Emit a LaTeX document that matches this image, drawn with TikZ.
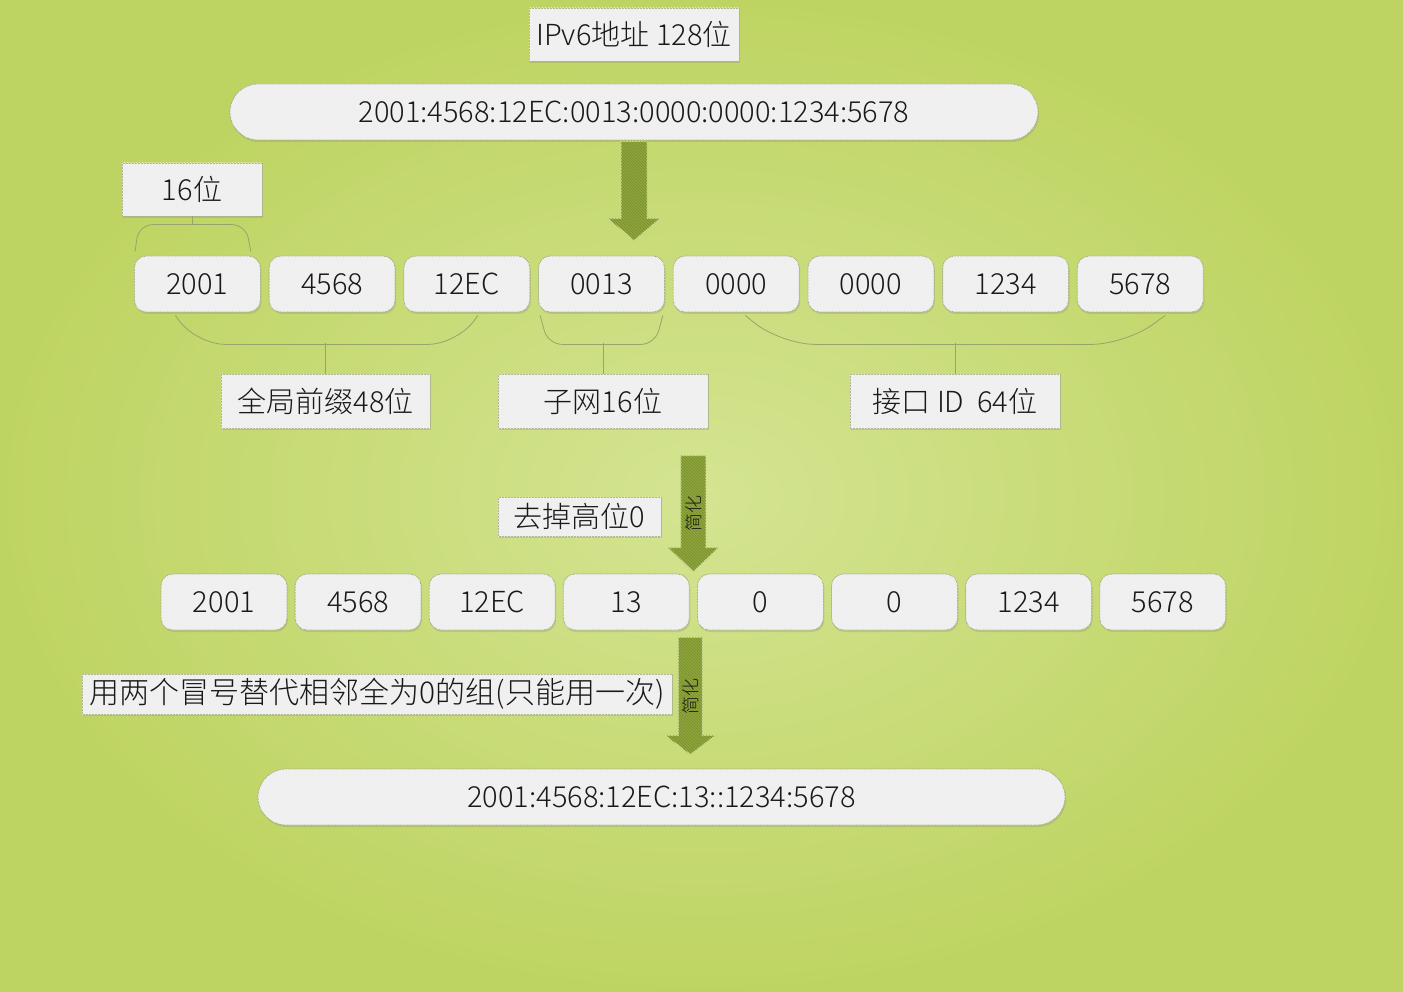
\documentclass[tikz,border=0pt]{standalone}
\usepackage{fontspec}
\setmainfont{Noto Sans CJK SC}[UprightFont=* Light]
\usetikzlibrary{calc,patterns,shadows}
\definecolor{bgouter}{RGB}{190,212,98}
\definecolor{bginner}{RGB}{212,228,146}
\definecolor{boxfill}{RGB}{239,239,239}
\definecolor{boxline}{RGB}{172,182,132}
\definecolor{bracecol}{RGB}{150,165,105}
\definecolor{arrowfill}{RGB}{142,166,58}
\definecolor{arrowline}{RGB}{200,218,140}
\definecolor{txt}{RGB}{25,25,25}

\begin{document}
\begin{tikzpicture}[x=1pt,y=-1pt,
  font=\fontsize{29}{34}\selectfont,
  infobox/.style={rectangle, draw=boxline, line width=0.8pt, fill=boxfill,
    text=txt, inner sep=0pt,
    drop shadow={opacity=0.25, shadow xshift=1pt, shadow yshift=-2pt},
    postaction={pattern=north west lines, pattern color=gray!10}},
  seg/.style={infobox, rounded corners=12pt, minimum width=126pt, minimum height=56pt},
  pill/.style={infobox, rounded corners=28pt, minimum width=808pt, minimum height=56pt},
  hook/.style={draw=bracecol, line width=0.8pt},
  bigarrow/.style={fill=arrowfill, draw=arrowline, line width=1pt,
    postaction={pattern=north west lines, pattern color=arrowfill!85!black}},
  tag/.style={font=\fontsize{18}{20}\selectfont, text=txt, rotate=90}]

% background
\shade[inner color=bginner, outer color=bgouter] (0,0) rectangle (1403,992);

% full address
\node[infobox, minimum width=210pt, minimum height=53pt] (title) at (634,34.5) {IPv6地址~128位};
\node[pill] (full) at (634,112) {2001:4568:12EC:0013:0000:0000:1234:5678};
\draw[bigarrow] ($(full.south)+(-13,1)$) -- ++(26,0) -- ++(0,77) -- ++(13,0)
  -- ++(-26,22) -- ++(-26,-22) -- ++(13,0) -- cycle;

% groups
\node[infobox, minimum width=140pt, minimum height=53pt] (bits) at (192,189.5) {16位};
\foreach \v [count=\i] in {2001,4568,12EC,0013,0000,0000,1234,5678}
  \node[seg] (a\i) at ({62.7+134.7*\i},284) {\v};

\draw[hook, rounded corners=14pt] ($(a1.north west)+(1,-4)$) -- ($(a1.north west)+(5,-31)$)
  -- ($(a1.north east)+(-15,-31)$) -- ($(a1.north east)+(-10,-4)$);
\draw[hook] (bits.south) -- ++(0,9);

\node[infobox, minimum width=209pt, minimum height=54pt] (pre) at (325.5,401) {全局前缀48位};
\node[infobox, minimum width=210pt, minimum height=54pt] (sub) at (603,401) {子网16位};
\node[infobox, minimum width=210pt, minimum height=54pt] (ifc) at (955,401) {接口~ID~~64位};

\draw[hook, rounded corners=30pt] ($(a1.south)+(-22,3)$) -- ($(a1.south)+(-2,32)$)
  -- ($(a3.south)+(-9,32)$) -- ($(a3.south)+(11,3)$);
\draw[hook, rounded corners=14pt] ($(a4.south west)+(2,3)$) -- ($(a4.south west)+(10,32)$)
  -- ($(a4.south east)+(-10,32)$) -- ($(a4.south east)+(-2,3)$);
\draw[hook, rounded corners=34pt] ($(a5.south)+(9,3)$) -- ($(a5.south)+(45,32)$)
  -- ($(a8.south)+(-15,32)$) -- ($(a8.south)+(25,3)$);
\draw[hook] (pre.north) -- ++(0,-31);
\draw[hook] (sub.north) -- ++(0,-31);
\draw[hook] (ifc.north) -- ++(0,-31);

% simplified groups
\node[infobox, minimum width=163pt, minimum height=39pt] (lead) at (579.5,516.5) {去掉高位0};
\foreach \v [count=\i] in {2001,4568,12EC,13,0,0,1234,5678}
  \node[seg] (b\i) at ({89.9+134.1*\i},602) {\v};

\draw[bigarrow] ($(b4.north east)!0.5!(b5.north west)+(-12.5,-118)$) -- ++(25,0) -- ++(0,92)
  -- ++(12.5,0) -- ++(-25,24) -- ++(-25,-24) -- ++(12.5,0) -- cycle;
\node[tag] (s1) at ($(b4.north east)!0.5!(b5.north west)+(0,-60)$) {简化};

% compressed address
\node[infobox, minimum width=590pt, minimum height=40pt] (dbl) at (377,694)
  {\fontsize{30}{34}\selectfont 用两个冒号替代相邻全为0的组(只能用一次)};
\draw[bigarrow] ($(b4.south east)!0.5!(b5.south west)+(-15,7)$) -- ++(24,0) -- ++(0,98)
  -- ++(13,0) -- ++(-25,19) -- ++(-25,-19) -- ++(13,0) -- cycle;
\node[tag] (s2) at ($(b4.south east)!0.5!(b5.south west)+(-3,66)$) {简化};
\node[pill, minimum width=807pt] (short) at (661.5,797) {2001:4568:12EC:13::1234:5678};
\end{tikzpicture}
\end{document}
